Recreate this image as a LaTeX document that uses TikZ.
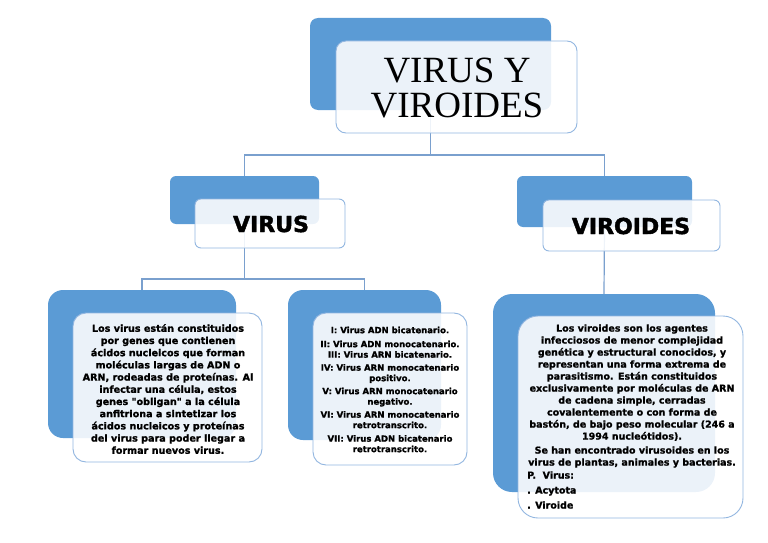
\documentclass[tikz,border=0pt]{standalone}
\usepackage{fontspec}
\setmainfont{DejaVu Sans}
\newfontfamily\titlefont{Liberation Serif}
\newfontfamily\heavyfont[FakeBold=1.3]{DejaVu Sans Bold}
\newfontfamily\headfont[FakeBold=2]{DejaVu Sans Bold}
\definecolor{bluef}{RGB}{91,155,213}
\definecolor{bord}{RGB}{146,182,224}
\definecolor{linec}{RGB}{122,160,206}
\begin{document}
\begin{tikzpicture}[x=1pt,y=-1pt,
  bluebox/.style={fill=bluef, draw=none, rounded corners=#1, anchor=north west, inner sep=0pt, outer sep=0pt},
  whitebox/.style={fill=white, fill opacity=0.88, draw=bord, line width=0.9pt, rounded corners=#1, anchor=north west, inner sep=0pt, outer sep=0pt},
  conn/.style={draw=linec, line width=1.2pt},
  txt/.style={align=center, inner sep=0pt, text=black}
]
\useasboundingbox (0,0) rectangle (768,543);
% blue back boxes
\node[bluebox=8, minimum width=241, minimum height=92] (tb) at (310,18) {};
\node[bluebox=6, minimum width=149, minimum height=48] (vb) at (170,176) {};
\node[bluebox=6, minimum width=175, minimum height=51] (db) at (517,176) {};
\node[bluebox=15, minimum width=188, minimum height=148] (b1) at (48,290) {};
\node[bluebox=15, minimum width=153, minimum height=150] (b2) at (288,290) {};
\node[bluebox=19, minimum width=222, minimum height=198] (b3) at (493,294) {};
% connectors
\draw[conn] (tb.south) -- ++(0,45) -| (vb.north);
\draw[conn] (tb.south) -- ++(0,45) -| (db.north);
\draw[conn] (vb.south) -- ++(0,55) -| (b1.north);
\draw[conn] (vb.south) -- ++(0,55) -| (b2.north);
\draw[conn] (db.south) -- (b3.north);
% white front boxes
\node[whitebox=10, minimum width=241, minimum height=92] (tw) at (336,41) {};
\node[whitebox=6, minimum width=150, minimum height=49] (vw) at (195,199) {};
\node[whitebox=6, minimum width=177, minimum height=51] (dw) at (543,200) {};
\node[whitebox=13, minimum width=189, minimum height=149] (w1) at (73,313) {};
\node[whitebox=13, minimum width=154, minimum height=152] (w2) at (313,313) {};
\node[whitebox=20, minimum width=225, minimum height=202] (w3) at (518,316) {};
% texts
\node[txt, font={\titlefont\fontsize{37}{35}\selectfont}] (tt) at (457,88) {VIRUS Y\\VIROIDES};
\node[txt, font={\headfont\fontsize{22}{24}\selectfont}] (vt) at (271,224) {VIRUS};
\node[txt, font={\headfont\fontsize{22}{24}\selectfont}] (dt) at (631,226) {VIROIDES};
\node[txt, font={\heavyfont\fontsize{9.6}{12.2}\selectfont}] (t1) at (168,389) {Los virus están constituidos\\
por genes que contienen\\
ácidos nucleicos que forman\\
moléculas largas de ADN o\\
ARN, rodeadas de proteínas. Al\\
infectar una célula, estos\\
genes "obligan" a la célula\\
anfitriona a sintetizar los\\
ácidos nucleicos y proteínas\\
del virus para poder llegar a\\
formar nuevos virus.};
\node[txt, font={\heavyfont\fontsize{8.5}{10.5}\selectfont}] (t2) at (390,389.5) {I: Virus ADN bicatenario.\\[3.5pt]
II: Virus ADN monocatenario.\\
III: Virus ARN bicatenario.\\[2.5pt]
IV: Virus ARN monocatenario\\
positivo.\\[2.5pt]
V: Virus ARN monocatenario\\
negativo.\\[2.5pt]
VI: Virus ARN monocatenario\\
retrotranscrito.\\[3pt]
VII: Virus ADN bicatenario\\
retrotranscrito.};
\node[txt, font={\heavyfont\fontsize{9.5}{12}\selectfont}] (t3) at (632,396) {Los viroides son los agentes\\
infecciosos de menor complejidad\\
genética y estructural conocidos, y\\
representan una forma extrema de\\
parasitismo. Están constituidos\\
exclusivamente por moléculas de ARN\\
de cadena simple, cerradas\\
covalentemente o con forma de\\
bastón, de bajo peso molecular (246 a\\
1994 nucleótidos).\\[2pt]
Se han encontrado virusoides en los\\
virus de plantas, animales y bacterias.};
\node[txt, align=left, anchor=west, font={\heavyfont\fontsize{9.5}{15}\selectfont}] (t3b) at (527,490) {P.\ \ Virus:\\
. Acytota\\
. Viroide};
\end{tikzpicture}
\end{document}
